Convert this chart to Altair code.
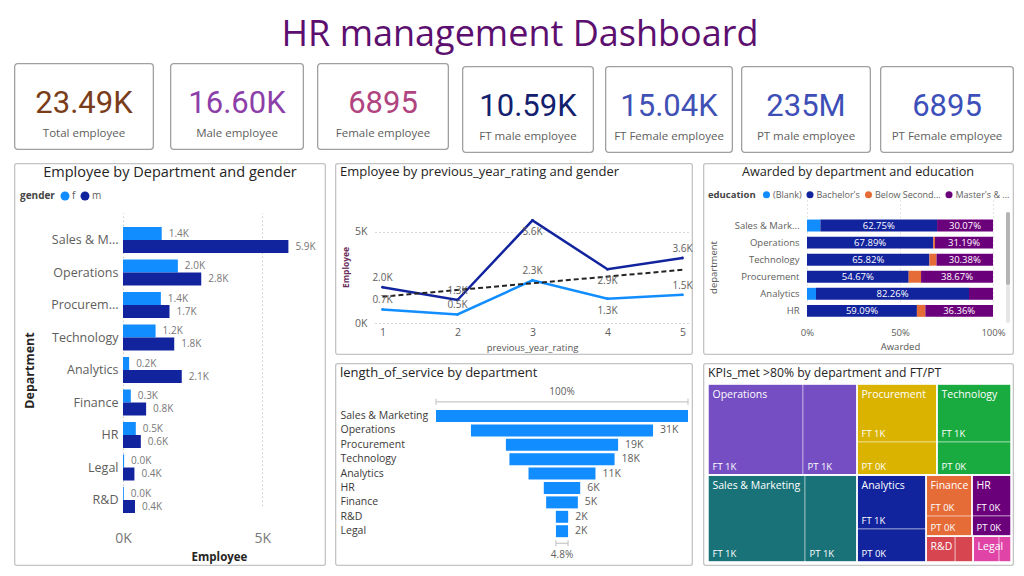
import altair as alt
import pandas as pd

FONT = "Open Sans"
NUMFONT = "Roboto"
GRAY = "#605e5c"
DARK = "#252423"
BORDER = "#c4c4c4"

# ---------------- data ----------------
dashboard_title = "HR management Dashboard"

kpi_values = ["23.49K", "16.60K", "6895", "10.59K", "15.04K", "235M", "6895"]
kpi_labels = ["Total employee", "Male employee", "Female employee", "FT male employee",
              "FT Female employee", "PT male employee", "PT Female employee"]

departments = ["Sales & Marketing", "Operations", "Procurement", "Technology", "Analytics",
               "Finance", "HR", "Legal", "R&D"]
dept_female = [1390, 1970, 1360, 1170, 220, 280, 460, 40, 30]
dept_male = [5940, 2810, 1670, 1840, 2110, 830, 640, 410, 430]

ratings = [1, 2, 3, 4, 5]
rating_female = [740, 470, 2340, 1330, 1540]
rating_male = [1960, 1260, 5620, 2940, 3560]

award_departments = ["Sales & Marketing", "Operations", "Technology", "Procurement", "Analytics", "HR"]
education_levels = ["(Blank)", "Bachelor's", "Below Secondary", "Master's & above"]
award_blank = [11, 0, 0, 0, 3, 0]
award_bachelor = [96, 74, 156, 82, 51, 13]
award_below = [0, 1, 9, 10, 0, 1]
award_master = [46, 34, 72, 58, 8, 8]

service_departments = ["Sales & Marketing", "Operations", "Procurement", "Technology", "Analytics",
                       "HR", "Finance", "R&D", "Legal"]
service_length = [42900, 31000, 19100, 17900, 11400, 6200, 5400, 2100, 2060]

kpi_departments = ["Operations", "Sales & Marketing", "Procurement", "Technology", "Analytics",
                   "Finance", "HR", "R&D", "Legal"]
kpi_ft = [1282, 1252, 688, 637, 553, 280, 237, 112, 100]
kpi_pt = [729, 671, 391, 362, 338, 136, 116, 69, 46]

# ---------------- styles ----------------
kpi_colors = ["#7a3d1a", "#8d3fa9", "#b0447f", "#12206d", "#3f51b5", "#3d4fb6", "#3d50ba"]
gender_domain = ["f", "m"]
gender_colors = ["#118DFF", "#12239E"]
education_colors = ["#118DFF", "#12239E", "#E66C37", "#6B007B"]
treemap_colors = ["#744EC2", "#197278", "#D9B300", "#1AAB40", "#12239E",
                  "#E66C37", "#6B007B", "#D64550", "#E044A7"]

ONE = pd.DataFrame({"k": [0]})


def frame(w, h, top=0, stroke=BORDER, width=1.3, radius=2):
    inset = width / 2.0
    return alt.Chart(ONE).mark_rect(fill="white", fillOpacity=0, stroke=stroke,
                                    strokeWidth=width, cornerRadius=radius).encode(
        x=alt.value(inset), x2=alt.value(w - inset),
        y=alt.value(top + inset), y2=alt.value(top + h - inset))


def caption(text, x, y, size=14, color=DARK, align="left", weight="normal", font=FONT,
            baseline="middle"):
    return alt.Chart(pd.DataFrame({"t": [text]})).mark_text(
        align=align, baseline=baseline, fontSize=size, color=color, font=font,
        fontWeight=weight).encode(x=alt.value(x), y=alt.value(y), text="t:N")


def indep(c):
    return c.resolve_scale(color="independent", fill="independent", stroke="independent")


def legend(x, y, title, size=10, tsize=10, symbol=70, **kw):
    return alt.Legend(orient="none", legendX=x, legendY=y, direction="horizontal", title=title,
                      titleOrient="left", titleFontSize=tsize, titleFontWeight="bold",
                      titleColor="#444444", labelFontSize=size, labelColor=GRAY,
                      symbolType="circle", symbolSize=symbol, symbolStrokeWidth=0,
                      labelOffset=2, **kw)


# ---------------- title ----------------
title_chart = caption(dashboard_title, 506, 38, size=36, color="#5c0f6e", align="center",
                      baseline="alphabetic").properties(width=1000, height=50)

# ---------------- KPI cards ----------------
card_x0 = [14, 170, 317, 462, 605, 741, 880]
card_x1 = [154, 304, 449, 594, 733, 871, 1014]
card_top = [0, 0, 0, 3, 3, 3, 3]
card_h = 87
cards = []
for i in range(7):
    start = card_x0[i]
    end = card_x0[i + 1] if i < 6 else card_x1[i]
    fw = card_x1[i] - card_x0[i]
    t = card_top[i]
    cards.append(alt.layer(
        frame(fw, card_h, top=t, stroke="#a0a0a0", width=1.3, radius=3),
        caption(kpi_values[i], fw / 2, t + 50, size=31, color=kpi_colors[i], align="center",
                font=NUMFONT, baseline="alphabetic"),
        caption(kpi_labels[i], fw / 2, t + 74, size=11.5, color=GRAY, align="center",
                baseline="alphabetic"),
    ).properties(width=end - start, height=90))
cards_row = alt.hconcat(*cards, spacing=0)

# ---------------- Panel A: department & gender (box 312 x 403) ----------------
dfA = pd.DataFrame({
    "department": departments + departments,
    "gender": ["f"] * len(departments) + ["m"] * len(departments),
    "employee": dept_female + dept_male,
})
xA = alt.X("employee:Q", scale=alt.Scale(domain=[0, 6500], nice=False, range=[109, 290]),
           axis=alt.Axis(values=[0, 5000], labelExpr="datum.value / 1000 + 'K'", labelFlush=False,
                         grid=True, gridDash=[1, 3], gridColor="#b0b0b0", domain=False, ticks=False,
                         labelFontSize=14, labelColor="#777777", labelPadding=15, offset=-49.75,
                         title="Employee", titleFontSize=11.5, titleFontWeight="bold",
                         titleColor=DARK, titleX=205, titleY=41, titleBaseline="middle"))
yA = alt.Y("department:N", sort=departments,
           scale=alt.Scale(paddingInner=0.2, paddingOuter=0.1, range=[60.75, 353.25]),
           axis=alt.Axis(labelExpr="datum.label == 'Sales & Marketing' ? 'Sales & M...' : "
                                   "datum.label == 'Procurement' ? 'Procurem...' : datum.label",
                         labelFontSize=12.5, labelColor=GRAY, labelPadding=5, ticks=False,
                         domain=False, offset=-109, title="Department", titleFontSize=12.5,
                         titleFontWeight="bold", titleColor=DARK, titleX=-94, titleY=207,
                         titleAngle=-90, titleBaseline="middle"))
yoA = alt.YOffset("gender:N", sort=gender_domain, scale=alt.Scale(paddingInner=0, paddingOuter=0))
barsA = alt.Chart(dfA).mark_bar().encode(
    x=xA, y=yA, yOffset=yoA,
    color=alt.Color("gender:N", scale=alt.Scale(domain=gender_domain, range=gender_colors),
                    legend=legend(6, 28, "gender", symbol=80, columnPadding=4, titlePadding=5)))
textA = alt.Chart(dfA).transform_calculate(
    lab="format(datum.employee / 1000, '.1f') + 'K'").mark_text(
    align="left", dx=7, fontSize=10, color="#777777", font=FONT).encode(
    x=xA, y=yA, yOffset=yoA, text="lab:N")
panelA = alt.layer(
    frame(312, 403),
    caption("Employee by Department and gender", 156, 10, size=14.5, align="center"),
    barsA, textA,
).properties(width=312, height=403)

# ---------------- Panel B: rating & gender (box 358 x 192) ----------------
dfB = pd.DataFrame({
    "rating": ratings + ratings,
    "gender": ["f"] * len(ratings) + ["m"] * len(ratings),
    "employee": rating_female + rating_male,
})
xB = alt.X("rating:Q", scale=alt.Scale(domain=[0.9, 5.1], nice=False, zero=False, range=[40, 355]),
           axis=alt.Axis(values=ratings, format="d", labelFlush=False, grid=False, domain=False,
                         ticks=False, labelFontSize=10.5, labelColor=GRAY, labelPadding=4,
                         offset=-32, title="previous_year_rating", titleFontSize=9.5,
                         titleColor="#555555", titleFontWeight="normal", titleX=197, titleY=24,
                         titleBaseline="middle"))
yB = alt.Y("employee:Q", scale=alt.Scale(domain=[0, 6460], nice=False, range=[160, 42]),
           axis=alt.Axis(values=[0, 5000], labelExpr="datum.value / 1000 + 'K'", labelFlush=False,
                         grid=True, gridDash=[1, 3], gridColor="#b0b0b0", domain=False, ticks=False,
                         labelFontSize=10.5, labelColor=GRAY, labelPadding=8, offset=-40,
                         title="Employee", titleFontSize=8.5, titleColor="#6b2d5b",
                         titleFontWeight="bold", titleX=-30, titleY=104, titleAngle=-90,
                         titleBaseline="middle"))
linesB = alt.Chart(dfB).mark_line(strokeWidth=2.5).encode(
    x=xB, y=yB,
    stroke=alt.Stroke("gender:N", scale=alt.Scale(domain=gender_domain, range=gender_colors),
                      legend=None))
keyB = alt.Chart(dfB).mark_point(filled=True, size=8, opacity=1).encode(
    x=xB, y=yB,
    fill=alt.Fill("gender:N", scale=alt.Scale(domain=gender_domain, range=gender_colors),
                  legend=legend(5, 26, "gender", symbol=80, columnPadding=4, titlePadding=5)))
trendB = alt.Chart(dfB).transform_regression("rating", "employee").mark_line(
    color=DARK, strokeDash=[5, 3], strokeWidth=2).encode(x=xB, y=yB)
labB = alt.Chart(dfB).transform_calculate(
    lab="format(datum.employee / 1000, '.1f') + 'K'",
    below="(datum.gender == 'm' && (datum.rating == 3 || datum.rating == 4)) || "
          "(datum.gender == 'f' && datum.rating == 4)")
aboveB = labB.transform_filter("!datum.below").mark_text(
    baseline="bottom", dy=-4, fontSize=10, color=GRAY, font=FONT).encode(x=xB, y=yB, text="lab:N")
belowB = labB.transform_filter("datum.below").mark_text(
    baseline="top", dy=7, fontSize=10, color=GRAY, font=FONT).encode(x=xB, y=yB, text="lab:N")
panelB = alt.layer(
    frame(358, 192),
    caption("Employee by previous_year_rating and gender", 5, 9, size=13),
    linesB, trendB, keyB, aboveB, belowB,
).properties(width=358, height=192)

# ---------------- Panel C: awarded by department & education (box 311 x 192) ----------------
rowsC = []
for i, d in enumerate(award_departments):
    counts = [award_blank[i], award_bachelor[i], award_below[i], award_master[i]]
    tot = float(sum(counts))
    cum = 0
    for j, e in enumerate(education_levels):
        rowsC.append(dict(department=d, education=e, start=cum / tot,
                          end=(cum + counts[j]) / tot, pct=counts[j] / tot))
        cum += counts[j]
dfC = pd.DataFrame(rowsC)
yC = alt.Y("department:N", sort=award_departments,
           scale=alt.Scale(paddingInner=0.3, paddingOuter=0.15, range=[54, 156.4]),
           axis=alt.Axis(labelExpr="datum.label == 'Sales & Marketing' ? 'Sales & Mark...' : datum.label",
                         labelFontSize=9.5, labelColor=GRAY, labelPadding=8, ticks=False,
                         domain=False, offset=-104, title="department", titleFontSize=9.5,
                         titleColor="#555555", titleFontWeight="normal", titleX=-94, titleY=104,
                         titleAngle=-90, titleBaseline="middle"))
xC = alt.X("start:Q", scale=alt.Scale(domain=[0, 1], nice=False, range=[104, 290]),
           axis=alt.Axis(values=[0, 0.5, 1], format=".0%", labelFlush=False, grid=True,
                         gridDash=[1, 3], gridColor="#c8c8c8", domain=False, ticks=False,
                         labelFontSize=9.5, labelColor=GRAY, labelPadding=8, offset=-35.6,
                         title="Awarded", titleFontSize=9.5, titleColor="#555555",
                         titleFontWeight="normal", titleX=197, titleY=27.5, titleBaseline="middle"))
barsC = alt.Chart(dfC).mark_bar().encode(
    x=xC, x2="end:Q", y=yC,
    color=alt.Color("education:N", scale=alt.Scale(domain=education_levels, range=education_colors),
                    legend=legend(5, 27, "education", size=9, tsize=9.5, symbol=50,
                                  columnPadding=3.5, titlePadding=6, labelLimit=120,
                                  labelExpr="datum.label == 'Below Secondary' ? 'Below Second...' : "
                                            "datum.label == \"Master's & above\" ? \"Master's & ...\" : datum.label")))
textC = alt.Chart(dfC).transform_filter("datum.pct > 0.2").transform_calculate(
    mid="(datum.start + datum.end) / 2", lab="format(datum.pct, '.2%')").mark_text(
    color="white", fontSize=9.5, font=FONT).encode(x="mid:Q", y=yC, text="lab:N")
scrollC = alt.Chart(ONE).mark_rect(fill="#e6e6e6", cornerRadius=2).encode(
    x=alt.value(303), x2=alt.value(307), y=alt.value(49), y2=alt.value(160))
thumbC = alt.Chart(ONE).mark_rect(fill="#b4b4b4", cornerRadius=2).encode(
    x=alt.value(303), x2=alt.value(307), y=alt.value(49), y2=alt.value(122))
panelC = alt.layer(
    frame(311, 192),
    caption("Awarded by department and education", 155, 9, size=12.7, align="center"),
    scrollC, thumbC, barsC, textC,
).properties(width=311, height=192)

# ---------------- Panel D: funnel (box 358 x 203) ----------------
dfD = pd.DataFrame({"department": service_departments, "service": service_length})
yD = alt.Y("department:N", sort=service_departments,
           scale=alt.Scale(paddingInner=0.17, paddingOuter=0.085, range=[45.8, 175.4]),
           axis=alt.Axis(title=None, labelAlign="left", labelPadding=96, ticks=False, tickSize=0,
                         domain=False, offset=-101, labelFontSize=10.5, labelColor="#3b3a39"))
xD = alt.X("x0:Q", scale=alt.Scale(nice=False, range=[101, 353]), axis=None)
barsD = alt.Chart(dfD).transform_calculate(
    x0="-datum.service / 2", x1="datum.service / 2").mark_bar(color="#118DFF").encode(
    x=xD, x2="x1:Q", y=yD)
valsD = alt.Chart(dfD).transform_joinaggregate(mx="max(service)").transform_filter(
    "datum.service < datum.mx").transform_calculate(
    x0="datum.service / 2", lab="round(datum.service / 1000) + 'K'").mark_text(
    align="left", dx=7, fontSize=10.5, color=GRAY, font=FONT).encode(x=xD, y=yD, text="lab:N")
aggD = alt.Chart(dfD).transform_aggregate(mx="max(service)", mn="min(service)").transform_calculate(
    lo="-datum.mx / 2", hi="datum.mx / 2", lo2="-datum.mn / 2", hi2="datum.mn / 2", mid="0",
    toplab="format(datum.mx / datum.mx, '.0%')", botlab="format(datum.mn / datum.mx, '.1%')")
RC = "#c8c8c8"
bracketsD = [
    aggD.mark_rule(color=RC, strokeWidth=1.2).encode(x=alt.X("lo:Q"), x2="hi:Q", y=alt.value(38.8)),
    aggD.mark_rule(color=RC, strokeWidth=1.2).encode(x=alt.X("lo:Q"), y=alt.value(35.8), y2=alt.value(41.8)),
    aggD.mark_rule(color=RC, strokeWidth=1.2).encode(x=alt.X("hi:Q"), y=alt.value(35.8), y2=alt.value(41.8)),
    aggD.mark_rule(color=RC, strokeWidth=1.2).encode(x=alt.X("lo2:Q"), x2="hi2:Q", y=alt.value(180.3)),
    aggD.mark_rule(color=RC, strokeWidth=1.2).encode(x=alt.X("lo2:Q"), y=alt.value(177.3), y2=alt.value(183.3)),
    aggD.mark_rule(color=RC, strokeWidth=1.2).encode(x=alt.X("hi2:Q"), y=alt.value(177.3), y2=alt.value(183.3)),
    aggD.mark_text(fontSize=10, color=GRAY, font=FONT).encode(x=alt.X("mid:Q"), y=alt.value(29.3), text="toplab:N"),
    aggD.mark_text(fontSize=10, color=GRAY, font=FONT).encode(x=alt.X("mid:Q"), y=alt.value(192.3), text="botlab:N"),
]
panelD = alt.layer(
    frame(358, 203),
    caption("length_of_service by department", 5, 10, size=13),
    barsD, valsD, *bracketsD,
).properties(width=358, height=203)


# ---------------- Panel E: treemap (box 311 x 203) ----------------
def squarify(values, x, y, w, h):
    total = float(sum(values))
    areas = [v * w * h / total for v in values]
    out = []
    i = 0
    while i < len(areas):
        short = min(w, h)

        def worst(row):
            s = sum(row)
            return max(max(short * short * a / (s * s), (s * s) / (short * short * a)) for a in row)

        row = [areas[i]]
        j = i + 1
        while j < len(areas) and worst(row + [areas[j]]) <= worst(row):
            row.append(areas[j])
            j += 1
        s = sum(row)
        if w >= h:
            cw = s / h
            yy = y
            for a in row:
                out.append((x, yy, x + cw, yy + a / cw))
                yy += a / cw
            x += cw
            w -= cw
        else:
            rh = s / w
            xx = x
            for a in row:
                out.append((xx, y, xx + a / rh, y + rh))
                xx += a / rh
            y += rh
            h -= rh
        i = j
    return out


TW, TH = 303, 178
dept_totals = [f + p for f, p in zip(kpi_ft, kpi_pt)]
dept_rects = squarify(dept_totals, 0, 0, TW, TH)
dept_rows, sub_rows = [], []
for d, r, f, p in zip(kpi_departments, dept_rects, kpi_ft, kpi_pt):
    dept_rows.append(dict(department=d, x0=r[0], y0=r[1], x1=r[2], y1=r[3]))
    subs = squarify([f, p], r[0], r[1], r[2] - r[0], r[3] - r[1])
    for kind, v, s in zip(["FT", "PT"], [f, p], subs):
        lab = "%s %dK" % (kind, round(v / 1000.0))
        if s[2] - s[0] < 34:
            lab = kind + " ..."
        show = (r[3] - r[1]) > 40
        sub_rows.append(dict(department=d, kind=kind, value=v, x0=s[0], y0=s[1], x1=s[2],
                             y1=s[3], label=lab, show=show))
dfE_dept = pd.DataFrame(dept_rows)
dfE_sub = pd.DataFrame(sub_rows)
xE = alt.X("x0:Q", scale=alt.Scale(domain=[0, TW], nice=False, zero=False, range=[5, 308]), axis=None)
yE = alt.Y("y0:Q", scale=alt.Scale(domain=[0, TH], nice=False, zero=False, range=[21, 199]), axis=None)
cellsE = alt.Chart(dfE_sub).mark_rect(stroke="white", strokeWidth=1, strokeOpacity=0.45).encode(
    x=xE, x2="x1:Q", y=yE, y2="y1:Q",
    color=alt.Color("department:N", scale=alt.Scale(domain=kpi_departments, range=treemap_colors),
                    legend=None))
outlineE = alt.Chart(dfE_dept).mark_rect(fillOpacity=0, stroke="white", strokeWidth=1.3).encode(
    x=xE, x2="x1:Q", y=yE, y2="y1:Q")
deptLabE = alt.Chart(dfE_dept).mark_text(align="left", baseline="top", dx=4.5, dy=6,
                                          color="white", fontSize=10.5, font=FONT).encode(
    x=xE, y=yE, text="department:N")
subLabE = alt.Chart(dfE_sub).transform_filter("datum.show").mark_text(
    align="left", baseline="bottom", dx=4.5, dy=-3, color="white", fontSize=9.5, font=FONT).encode(
    x=xE, y=alt.Y("y1:Q"), text="label:N")
panelE = alt.layer(
    frame(311, 203),
    caption("KPIs_met >80% by department and FT/PT", 5, 10, size=12.2),
    cellsE, outlineE, deptLabE, subLabE,
).properties(width=311, height=203)

# ---------------- layout ----------------
top_row = indep(alt.hconcat(panelB, panelC, spacing=10))
bot_row = indep(alt.hconcat(panelD, panelE, spacing=10))
right_block = indep(alt.vconcat(top_row, bot_row, spacing=8))
bottom = indep(alt.hconcat(panelA, right_block, spacing=9))
main = indep(alt.vconcat(cards_row, bottom, spacing=10))
chart = indep(alt.vconcat(title_chart, main, spacing=5)).properties(
    padding={"left": 6, "top": 0, "right": 0, "bottom": 0}, background="white")
chart = chart.configure_view(stroke=None).configure_axis(
    labelFont=FONT, titleFont=FONT).configure_legend(labelFont=FONT, titleFont=FONT)

chart.save("out.html", embed_options={"renderer": "svg", "actions": False})
